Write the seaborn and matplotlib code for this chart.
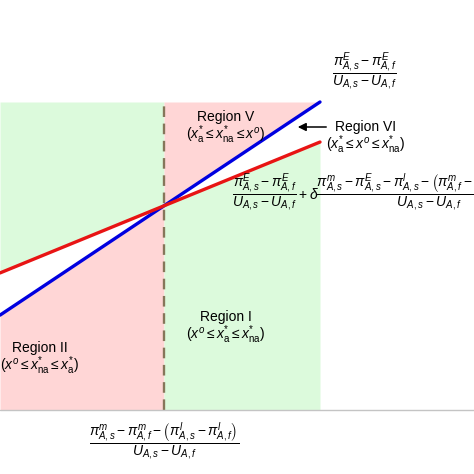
import numpy as np
import pandas as pd
import matplotlib
matplotlib.use("Agg")
import matplotlib.pyplot as plt
import seaborn as sns

# x in units where 1.0 is the right edge of the shaded panel
x_pts = [0.0, 0.5125, 1.0]
blue_y = [0.308, 0.663, 1.0]   # pi^E threshold line
red_y = [0.445, 0.663, 0.870]  # threshold with delta term
x_cut = 0.5125                 # vertical dashed threshold
y_top = 1.0

region_labels = ["Region V", "Region VI", "Region I", "Region II"]
region_conds = [r"$(x^{*}_{\rm a}\leq x^{*}_{\rm na}\leq x^{o})$",
                r"$(x^{*}_{\rm a}\leq x^{o}\leq x^{*}_{\rm na})$",
                r"$(x^{o}\leq x^{*}_{\rm a}\leq x^{*}_{\rm na})$",
                r"$(x^{o}\leq x^{*}_{\rm na}\leq x^{*}_{\rm a})$"]

frac_E = r"\dfrac{\pi^{E}_{A,s}-\pi^{E}_{A,f}}{U_{A,s}-U_{A,f}}"
frac_delta = (r"\dfrac{\pi^{m}_{A,s}-\pi^{E}_{A,s}-\pi^{l}_{A,s}-\left(\pi^{m}_{A,f}"
              r"-\pi^{E}_{A,f}-\pi^{l}_{A,f}\right)}{U_{A,s}-U_{A,f}}")
frac_bottom = (r"\dfrac{\pi^{m}_{A,s}-\pi^{m}_{A,f}-\left(\pi^{l}_{A,s}"
               r"-\pi^{l}_{A,f}\right)}{U_{A,s}-U_{A,f}}")

sns.set_theme(style="white")
plt.rcParams["font.family"] = ["Liberation Sans", "DejaVu Sans"]
plt.rcParams["text.color"] = "black"
plt.rcParams["mathtext.fontset"] = "custom"
plt.rcParams["mathtext.rm"] = "Liberation Sans"
plt.rcParams["mathtext.it"] = "Liberation Sans:italic"
plt.rcParams["mathtext.bf"] = "Liberation Sans:bold"

df = pd.DataFrame({"x": x_pts * 2,
                   "y": blue_y + red_y,
                   "line": ["blue"] * 3 + ["red"] * 3})

fig = plt.figure(figsize=(4.74, 4.74), dpi=100)
ax = fig.add_axes([0, 0, 1, 1])
ax.set_xlim(0, 474 / 320)
ax.set_ylim(-64 / 308, 410 / 308)
ax.axis("off")

green = "#dcfadc"
pink = "#ffd6d6"
xx = np.array(x_pts)
lo = np.minimum(blue_y, red_y)
hi = np.maximum(blue_y, red_y)
left = xx <= x_cut
right = xx >= x_cut
ax.fill_between(xx[left], hi[left], y_top, color=green, lw=0)
ax.fill_between(xx[left], 0, lo[left], color=pink, lw=0)
ax.fill_between(xx[right], hi[right], y_top, color=pink, lw=0)
ax.fill_between(xx[right], 0, lo[right], color=green, lw=0)

ax.plot([x_cut, x_cut], [0, y_top], color="#86765a", lw=1.7, dashes=(4.5, 2.8))
ax.axhline(0, color="#c4c4c4", lw=1)

sns.lineplot(data=df, x="x", y="y", hue="line",
             palette={"blue": "#0000e0", "red": "#e81414"},
             lw=2.4, legend=False, ax=ax)

def px(x, y):
    return x / 320, (410 - y) / 308

fs = 10
fm = 10
# region name sits above its condition, both on a baseline
pos = [(226, 121, 139), (366, 131, 149), (226, 321, 339), (40, 352, 370)]
for (x, y1, y2), lab, cond in zip(pos, region_labels, region_conds):
    ax.text(*px(x, y1), lab, ha="center", va="baseline", fontsize=fs)
    ax.text(*px(x, y2), cond, ha="center", va="baseline", fontsize=fs)

ax.annotate("", xy=px(295, 127), xytext=px(329, 127),
            arrowprops=dict(arrowstyle="-|>", color="black", lw=1.1,
                            mutation_scale=12))

ax.text(*px(365, 72), "$" + frac_E + "$", ha="center", va="center", fontsize=fm)
ax.text(*px(232, 192), "$" + frac_E + r"+\delta" + frac_delta + "$",
        ha="left", va="center", fontsize=fm)
ax.text(*px(164, 441), "$" + frac_bottom + "$", ha="center", va="center",
        fontsize=fm)

fig.savefig("out.png", dpi=100)
